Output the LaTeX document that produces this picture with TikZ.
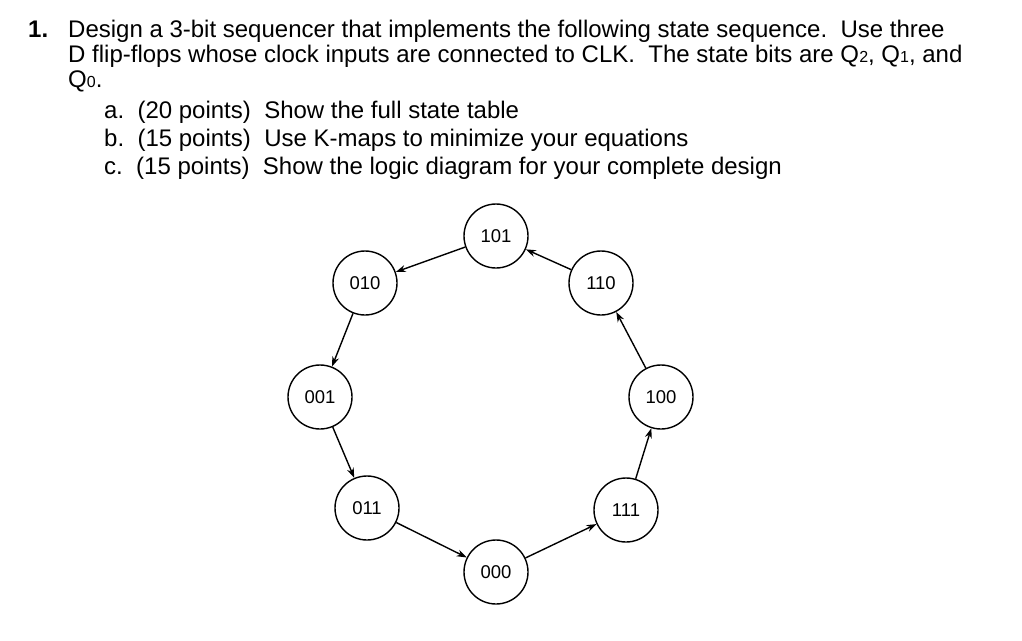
\documentclass[tikz,border=0pt]{standalone}
\usepackage{fontspec}
\setmainfont{Liberation Sans}
\usetikzlibrary{arrows.meta}
\newcommand{\sbs}[1]{{\fontsize{16}{16}\selectfont #1}}
\begin{document}
\begin{tikzpicture}[x=1pt,y=-1pt,
  txt/.style={anchor=base west,inner sep=0pt,font=\fontsize{24}{28}\selectfont},
  st/.style={circle,draw,line width=1.4pt,minimum size=64pt,inner sep=0pt,font=\fontsize{18.5}{18.5}\selectfont},
  arr/.style={-{Stealth[length=10pt,width=7pt]},line width=1.4pt}]
\useasboundingbox (0,0) rectangle (1022,640);
\node[txt,font=\fontsize{24}{28}\selectfont\bfseries] (n1) at (28,37) {1.};
\node[txt] (l1) at (68,37) {Design a 3-bit sequencer that implements the following state sequence.\ \ Use three};
\node[txt] (l2) at (68,62) {D flip-flops whose clock inputs are connected to CLK.\ \ The state bits are Q\sbs{2}, Q\sbs{1}, and};
\node[txt] (l3) at (68,87) {Q\sbs{0}.};
\node[txt] (a) at (104,118) {a.\ \ (20 points)\ \ Show the full state table};
\node[txt] (b) at (104,146) {b.\ \ (15 points)\ \ Use K-maps to minimize your equations};
\node[txt] (c) at (104,174) {c.\ \ (15 points)\ \ Show the logic diagram for your complete design};
\node[st] (s101) at (496,236) {101};
\node[st] (s010) at (365,283) {010};
\node[st] (s110) at (601,283) {110};
\node[st] (s001) at (320,397) {001};
\node[st] (s100) at (661,397) {100};
\node[st] (s011) at (367,508) {011};
\node[st] (s111) at (626,510) {111};
\node[st] (s000) at (496,572) {000};
\draw[arr] (s101) -- (s010);
\draw[arr] (s010) -- (s001);
\draw[arr] (s001) -- (s011);
\draw[arr] (s011) -- (s000);
\draw[arr] (s000) -- (s111);
\draw[arr] (s111) -- (s100);
\draw[arr] (s100) -- (s110);
\draw[arr] (s110) -- (s101);
\end{tikzpicture}
\end{document}
